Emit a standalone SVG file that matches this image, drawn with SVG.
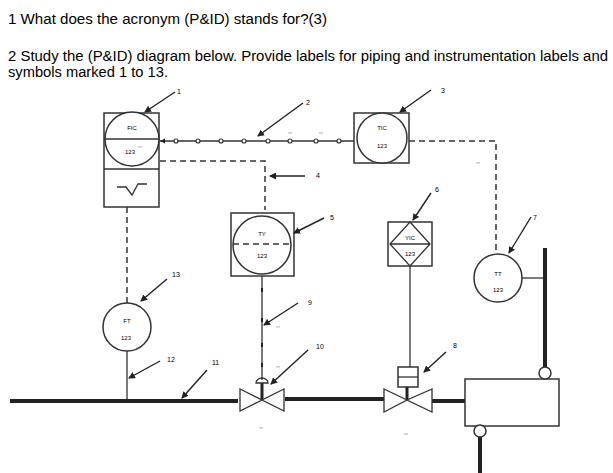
<svg xmlns="http://www.w3.org/2000/svg" width="613" height="473" viewBox="0 0 613 473">
<style>
.t{font-family:"Liberation Sans",Arial,sans-serif;fill:#000}
.h{font-size:14px}
.s{font-size:6px}
.n{font-size:7px}
.m{font-size:5px;fill:#999}
.ln{stroke:#333;stroke-width:1.3;fill:none}
.bx{stroke:#333;stroke-width:1.5;fill:#fff}
.dash{stroke:#333;stroke-width:1.5;fill:none;stroke-dasharray:6,4}
.pipe{stroke:#222;stroke-width:4;fill:none}
.ar{stroke:#222;stroke-width:1.4;fill:none;marker-end:url(#ah)}
.sc{stroke:#333;stroke-width:1.2;fill:#fff}
</style>
<defs>
<marker id="ah" markerWidth="7" markerHeight="7" refX="6" refY="3.5" orient="auto" markerUnits="userSpaceOnUse"><path d="M0,0 L7,3.5 L0,7 z" fill="#222"/></marker>
</defs>
<rect width="613" height="473" fill="#fff"/>
<text class="t h" x="8" y="24" textLength="319" lengthAdjust="spacingAndGlyphs">1  What does the acronym (P&amp;ID) stands for?(3)</text>
<text class="t h" x="8" y="61" textLength="600" lengthAdjust="spacingAndGlyphs">2 Study the (P&amp;ID) diagram below. Provide labels for piping and instrumentation labels and</text>
<text class="t h" x="8" y="77" textLength="160" lengthAdjust="spacingAndGlyphs">symbols marked 1 to 13.</text>

<g id="connectors">
<line class="ln" x1="160" y1="141" x2="354" y2="141"/>
<g class="sc"><circle cx="176" cy="141" r="2"/><circle cx="198" cy="141" r="2"/><circle cx="221" cy="141" r="2"/><circle cx="244" cy="141" r="2"/><circle cx="268" cy="141" r="2"/><circle cx="290" cy="141" r="2"/><circle cx="316" cy="141" r="2"/><circle cx="339" cy="141" r="2"/></g>
<path d="M160,141 l5,-2.5 v5z" fill="#222"/>
<path class="dash" d="M160,161 H265 V210"/>
<path class="dash" d="M409,141 H496 V254"/>
<line class="dash" x1="127" y1="207" x2="127" y2="303" stroke-dasharray="3,2"/>
<line class="ln" x1="127" y1="351" x2="127" y2="401"/>
<line class="ln" x1="262" y1="276" x2="262" y2="380"/>
<g stroke="#222" stroke-width="2"><line x1="262" y1="288" x2="262" y2="292"/><line x1="262" y1="318" x2="262" y2="322"/><line x1="262" y1="343" x2="262" y2="347"/><line x1="262" y1="363" x2="262" y2="367"/></g>
<line class="ln" x1="410" y1="266" x2="410" y2="367"/>
<line class="ln" x1="522" y1="278" x2="545" y2="278"/>
<line class="pipe" x1="545" y1="248" x2="545" y2="367"/>
<line class="pipe" x1="10" y1="401" x2="238" y2="401"/>
<line class="pipe" x1="285" y1="399" x2="384" y2="399"/>
<line class="pipe" x1="432" y1="401" x2="465" y2="401"/>
<line class="pipe" x1="480" y1="437" x2="480" y2="473"/>
</g>

<g id="n1-FIC">
<rect class="bx" x="104" y="113" width="55" height="94"/>
<circle class="bx" cx="132" cy="139" r="27"/>
<line class="ln" x1="104" y1="139" x2="159" y2="139"/>
<line class="ln" x1="104" y1="169" x2="159" y2="169"/>
<path class="ln" d="M117,187 H126 L132,195 L138,184 H147" stroke-width="1.6"/>
<text class="t s" x="132" y="130" text-anchor="middle">FIC</text>
<text class="t s" x="130" y="154" text-anchor="middle">123</text>
<text class="t m" x="138" y="150">**</text>
</g>
<g id="n3-TIC">
<rect class="bx" x="354" y="113" width="55" height="50"/>
<circle class="bx" cx="382" cy="138" r="25"/>
<text class="t s" x="382" y="130" text-anchor="middle">TIC</text>
<text class="t s" x="382" y="148" text-anchor="middle">123</text>
</g>
<g id="n5-TY">
<rect class="bx" x="231" y="213" width="63" height="63"/>
<circle class="bx" cx="262" cy="245" r="29"/>
<line class="dash" x1="233" y1="244" x2="291" y2="244" stroke-dasharray="3,2"/>
<text class="t s" x="262" y="236" text-anchor="middle">TY</text>
<text class="t s" x="262" y="258" text-anchor="middle">123</text>
</g>
<g id="n6-YIC">
<rect class="bx" x="388" y="222" width="44" height="44"/>
<path class="ln" d="M410,222 L430,244 L410,266 L390,244 Z M390,244 H430"/>
<text class="t s" x="410" y="240" text-anchor="middle">YIC</text>
<text class="t s" x="410" y="256" text-anchor="middle">123</text>
</g>
<g id="n7-TT">
<circle class="bx" cx="498" cy="278" r="24"/>
<text class="t s" x="498" y="276" text-anchor="middle">TT</text>
<text class="t s" x="498" y="292" text-anchor="middle">123</text>
</g>
<g id="n13-FT">
<circle class="bx" cx="127" cy="327" r="24"/>
<text class="t s" x="127" y="323" text-anchor="middle">FT</text>
<text class="t s" x="126" y="340" text-anchor="middle">123</text>
</g>
<g id="n10-valve">
<path class="ln" d="M256,383 a6,5 0 0 1 12,0 z" fill="#fff"/>
<line stroke="#222" stroke-width="3" x1="262" y1="383" x2="262" y2="400"/>
<path class="ln" d="M240,389 L262,400 L240,411 Z M284,389 L262,400 L284,411 Z"/>
</g>
<g id="n8-valve">
<rect class="bx" x="398" y="367" width="20" height="20"/>
<line class="ln" x1="398" y1="377" x2="418" y2="377"/>
<line stroke="#222" stroke-width="3" x1="407" y1="387" x2="407" y2="400"/>
<path class="ln" d="M384,389 L407,400 L384,412 Z M432,389 L407,400 L432,412 Z"/>
</g>
<g id="vessel">
<rect class="bx" x="465" y="379" width="94" height="47"/>
<circle class="bx" cx="545" cy="373" r="6"/>
<circle class="bx" cx="480" cy="431" r="6"/>
</g>

<g id="labels">
<line class="ar" x1="175" y1="92" x2="145" y2="112"/><text class="t n" x="177" y="94">1</text>
<line class="ar" x1="303" y1="103" x2="258" y2="136"/><text class="t n" x="306" y="105">2</text>
<line class="ar" x1="431" y1="90" x2="400" y2="112"/><text class="t n" x="441" y="93">3</text>
<line class="ar" x1="305" y1="176" x2="270" y2="176"/><text class="t n" x="316" y="178">4</text>
<line class="ar" x1="324" y1="218" x2="294" y2="233"/><text class="t n" x="330" y="220">5</text>
<line class="ar" x1="431" y1="193" x2="413" y2="220"/><text class="t n" x="435" y="192">6</text>
<line class="ar" x1="531" y1="217" x2="509" y2="253"/><text class="t n" x="533" y="220">7</text>
<line class="ar" x1="446" y1="352" x2="424" y2="372"/><text class="t n" x="453" y="348">8</text>
<line class="ar" x1="298" y1="303" x2="264" y2="325"/><text class="t n" x="308" y="305">9</text>
<line class="ar" x1="308" y1="350" x2="271" y2="384"/><text class="t n" x="316" y="349">10</text>
<line class="ar" x1="207" y1="370" x2="182" y2="398"/><text class="t n" x="212" y="365">11</text>
<line class="ar" x1="160" y1="361" x2="129" y2="378"/><text class="t n" x="167" y="362">12</text>
<line class="ar" x1="167" y1="279" x2="141" y2="301"/><text class="t n" x="172" y="277">13</text>
<text class="t m" x="288" y="136">**</text><text class="t m" x="319" y="136">**</text>
<text class="t m" x="476" y="166">**</text><text class="t m" x="276" y="330">**</text>
<text class="t m" x="276" y="370">**</text><text class="t m" x="259" y="431">**</text>
<text class="t m" x="404" y="437">**</text>
</g>
</svg>
